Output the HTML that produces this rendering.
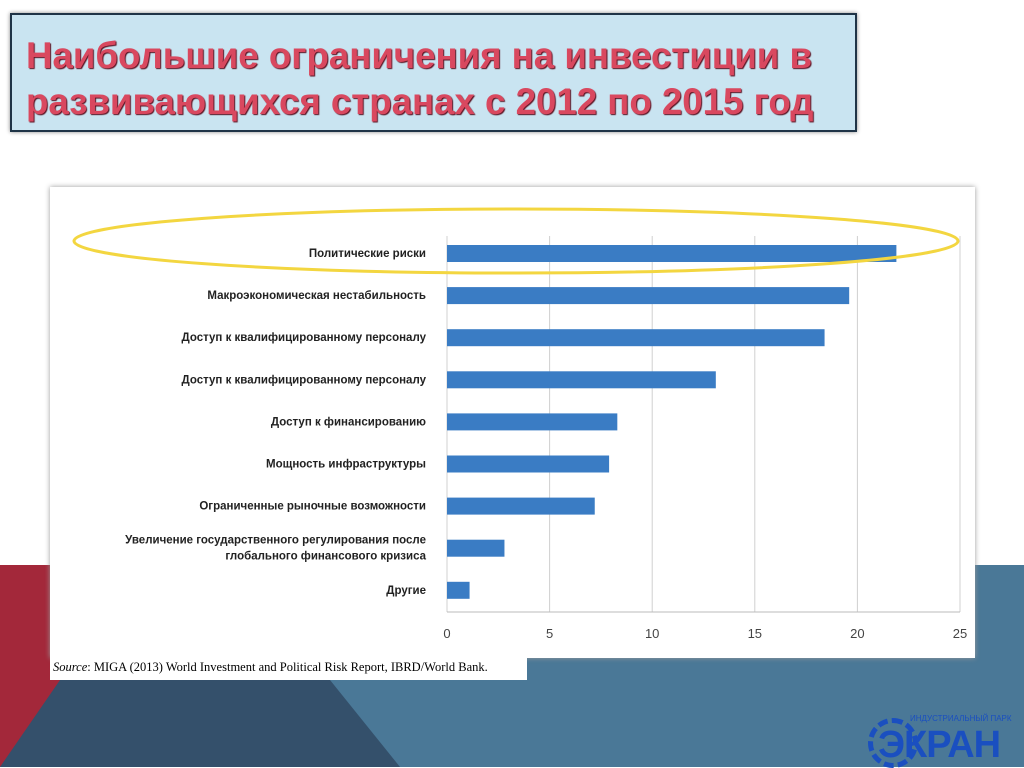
<!DOCTYPE html>
<html><head><meta charset="utf-8"><style>
body{margin:0;width:1024px;height:767px;overflow:hidden;background:#fff;position:relative;font-family:"Liberation Sans",sans-serif}
.t{position:absolute;left:10px;top:13px;width:843px;height:115px;background:#c9e4f1;border:2px solid #1f3447;box-shadow:0 0 4px #888}
.t div{position:absolute;left:14px;font-weight:bold;font-size:37px;color:#d9485f;text-shadow:1px 1px 1px #5a1020;white-space:nowrap;transform:scaleX(0.99);transform-origin:left center}
</style></head><body>
<svg style="position:absolute;left:0;top:0" width="1024" height="767">
<rect x="0" y="565" width="1024" height="202" fill="#4a7897"/>
<polygon points="0,565 300,565 80,767 0,767" fill="#a3283a"/>
<polygon points="60,680 330,680 400,767 0,767" fill="#34506b"/>
</svg>
<div class="t">
<div style="top:20px">Наибольшие ограничения на инвестиции в</div>
<div style="top:66px">развивающихся странах с 2012 по 2015 год</div>
</div>
<div style="position:absolute;left:50px;top:187px;width:925px;height:471px;background:#fff;box-shadow:0 0 5px #999"></div>
<div style="position:absolute;left:50px;top:655px;width:477px;height:25px;background:#fff;font-family:'Liberation Serif',serif;font-size:12.5px;line-height:25px;padding-left:3px;box-sizing:border-box;white-space:nowrap"><i>Source</i>: MIGA (2013) World Investment and Political Risk Report, IBRD/World Bank.</div>
<svg id="chart" style="position:absolute;left:0;top:0" width="1024" height="767"></svg>
<div style="position:absolute;left:868px;top:712px;width:156px;height:55px">
<div style="position:absolute;left:0;top:6px;width:40px;height:40px;border:5px dashed #1a4fc0;border-radius:50%"></div>
<div style="position:absolute;left:42px;top:2px;font-size:8px;color:#1a4fc0;white-space:nowrap">ИНДУСТРИАЛЬНЫЙ ПАРК</div>
<div style="position:absolute;left:10px;top:12px;font-size:38px;font-weight:bold;color:#1a4fc0;letter-spacing:-1px">ЭКРАН</div>
</div>
<script>
const categories=["Политические риски","Макроэкономическая нестабильность","Доступ к квалифицированному персоналу","Доступ к квалифицированному персоналу","Доступ к финансированию","Мощность инфраструктуры","Ограниченные рыночные возможности","Увеличение государственного регулирования после|глобального финансового кризиса","Другие"];
const values=[21.9,19.6,18.4,13.1,8.3,7.9,7.2,2.8,1.1];
const ticks=[0,5,10,15,20,25];
const NS="http://www.w3.org/2000/svg",svg=document.getElementById('chart');
const x=v=>447+v*20.52;
const y=i=>253+i*42.1;
function mk(t,a){const e=document.createElementNS(NS,t);for(const k in a)e.setAttribute(k,a[k]);svg.appendChild(e);return e;}
ticks.forEach(t=>{
const g=mk('line',{x1:x(t),x2:x(t),y1:236,y2:612,stroke:'#d0d0d0','stroke-width':1});


const l=mk('text',{x:x(t),y:638,'text-anchor':'middle','font-size':13,fill:'#444'});l.textContent=t;


});
const ax=mk('line',{x1:447,x2:960,y1:612,y2:612,stroke:'#bbb'});


values.forEach((v,i)=>{
const b=mk('rect',{x:x(0),y:y(i)-8,width:x(v)-x(0),height:17,fill:'#3a7cc4'});


const lines=categories[i].split('|');
lines.forEach((s,j)=>{
const t=mk('text',{x:426,y:y(i)+4+(j-(lines.length-1)/2)*16,'text-anchor':'end','font-size':11.5,'font-weight':'bold',fill:'#222'});
t.textContent=s;


});
});
const e=mk('ellipse',{cx:516,cy:241,rx:442,ry:32,fill:'none',stroke:'#f3d640','stroke-width':3});


</script>
</body></html>
